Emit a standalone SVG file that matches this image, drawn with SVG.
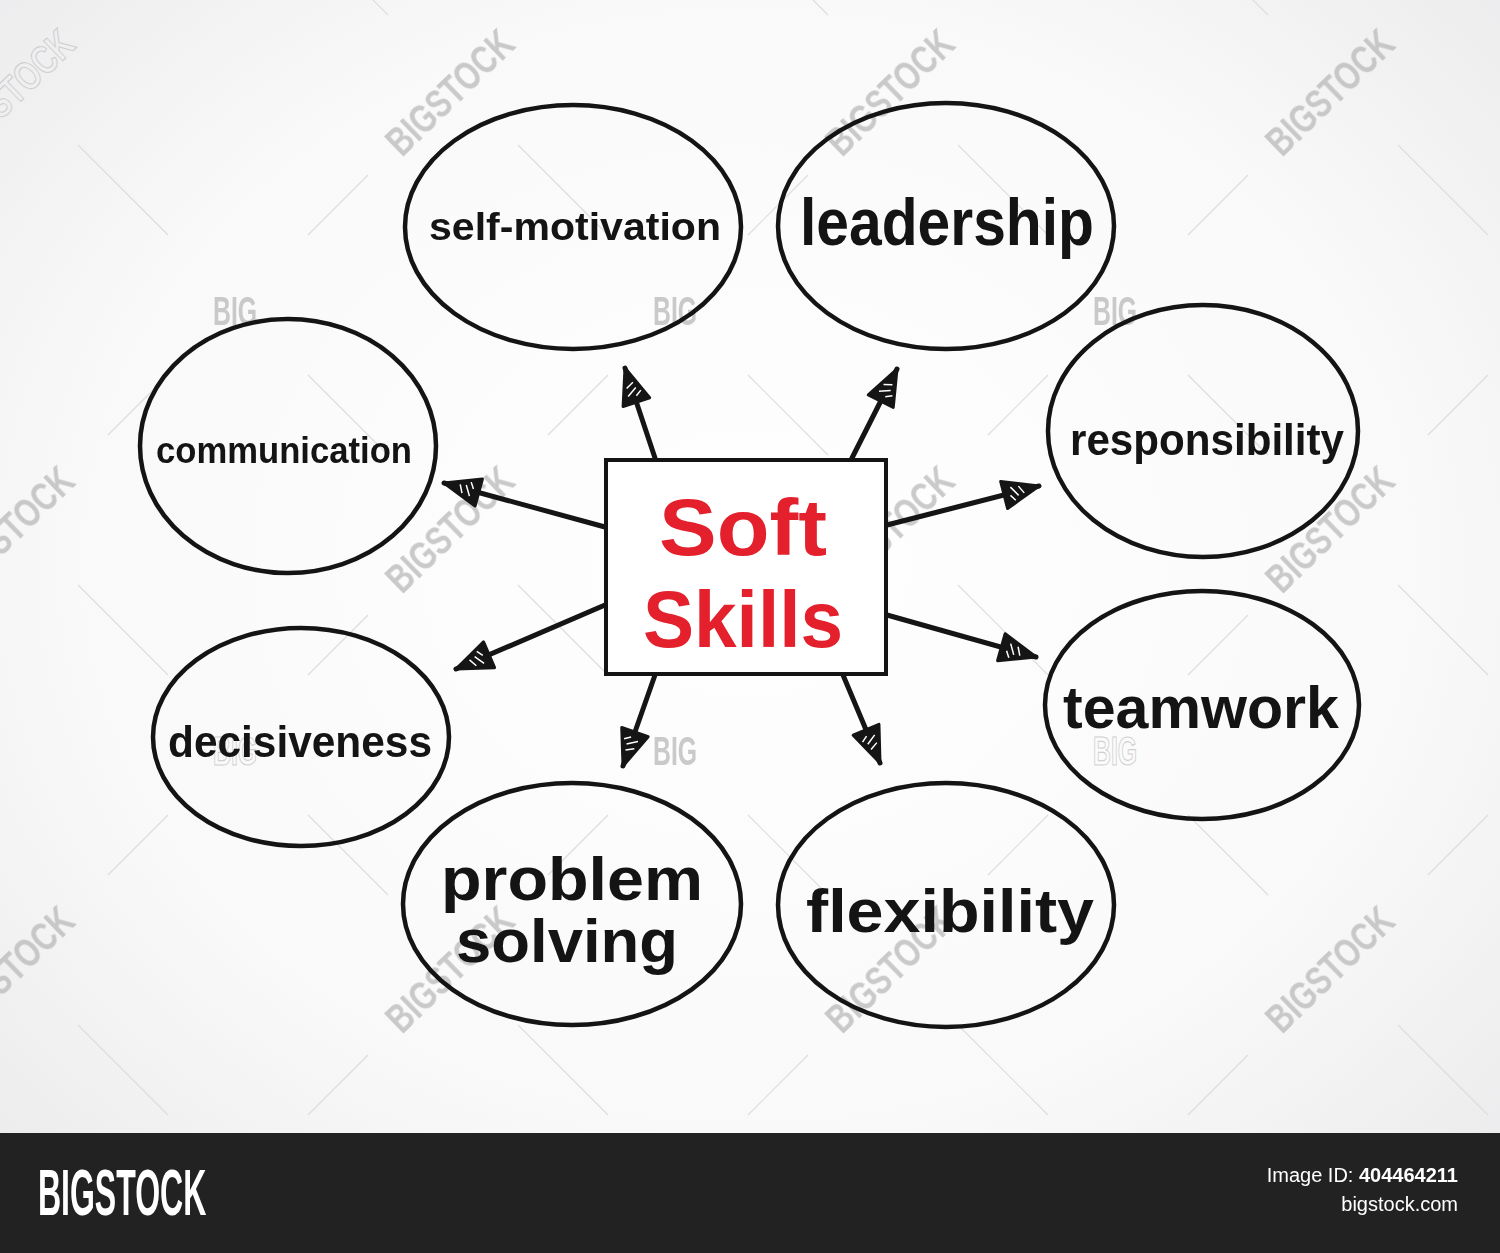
<svg xmlns="http://www.w3.org/2000/svg" width="1500" height="1253" viewBox="0 0 1500 1253">
<defs>
<radialGradient id="bg" cx="0.5" cy="0.45" r="0.75">
<stop offset="0" stop-color="#ffffff"/>
<stop offset="0.6" stop-color="#f9f9f9"/>
<stop offset="1" stop-color="#e8e8ea"/>
</radialGradient>
<marker id="ah" viewBox="0 0 40 32" refX="38" refY="16" markerWidth="40" markerHeight="32" markerUnits="userSpaceOnUse" orient="auto">
<path d="M2,2 L38,16 L2,30 Z" fill="#151515" stroke="#151515" stroke-width="3" stroke-linejoin="round"/>
<path d="M10,10 L16,20 M18,11 L22,19 M8,18 L12,24" stroke="#ffffff" stroke-width="1.5"/>
</marker>
<g id="wmx" stroke="#dedede" stroke-width="1.2">
<line x1="-150" y1="-150" x2="-70" y2="-70"/>
<line x1="60" y1="60" x2="150" y2="150"/>
<line x1="150" y1="-150" x2="90" y2="-90"/>
<line x1="-90" y1="90" x2="-150" y2="150"/>
</g>
<style>
.node ellipse{fill:none;stroke:#141414;stroke-width:4.5}
.lbl{font-family:"Liberation Sans","DejaVu Sans",sans-serif;font-weight:bold;fill:#141414;text-anchor:middle}
.conn line{stroke:#151515;stroke-width:5;stroke-linecap:round;marker-end:url(#ah)}
.wm{font-family:"Liberation Sans",sans-serif;font-weight:bold;fill:#b9b9b9;opacity:0.75}
.wmo{font-family:"Liberation Sans",sans-serif;font-weight:bold;fill:none;stroke:#d0d0d0;stroke-width:1.2}
</style>
</defs>
<rect x="0" y="0" width="1500" height="1253" fill="url(#bg)"/>

<g id="watermarks">
<use href="#wmx" x="458" y="85"/>
<use href="#wmx" x="898" y="85"/>
<use href="#wmx" x="1338" y="85"/>
<use href="#wmx" x="18" y="85"/>
<use href="#wmx" x="458" y="525"/>
<use href="#wmx" x="898" y="525"/>
<use href="#wmx" x="1338" y="525"/>
<use href="#wmx" x="18" y="525"/>
<use href="#wmx" x="458" y="965"/>
<use href="#wmx" x="898" y="965"/>
<use href="#wmx" x="1338" y="965"/>
<use href="#wmx" x="18" y="965"/>
<g class="wm" font-size="40">
<text transform="translate(402,158) rotate(-44) scale(0.76,1)">BIGSTOCK</text>
<text transform="translate(842,158) rotate(-44) scale(0.76,1)">BIGSTOCK</text>
<text transform="translate(1282,158) rotate(-44) scale(0.76,1)">BIGSTOCK</text>
<text transform="translate(-38,595) rotate(-44) scale(0.76,1)">BIGSTOCK</text>
<text transform="translate(402,595) rotate(-44) scale(0.76,1)">BIGSTOCK</text>
<text transform="translate(842,595) rotate(-44) scale(0.76,1)">BIGSTOCK</text>
<text transform="translate(1282,595) rotate(-44) scale(0.76,1)">BIGSTOCK</text>
<text transform="translate(-38,1035) rotate(-44) scale(0.76,1)">BIGSTOCK</text>
<text transform="translate(402,1035) rotate(-44) scale(0.76,1)">BIGSTOCK</text>
<text transform="translate(842,1035) rotate(-44) scale(0.76,1)">BIGSTOCK</text>
<text transform="translate(1282,1035) rotate(-44) scale(0.76,1)">BIGSTOCK</text>
</g>
<text class="wmo" font-size="40" transform="translate(-38,158) rotate(-44) scale(0.76,1)">BIGSTOCK</text>
<g class="wm" font-size="40">
<text transform="translate(213,325) scale(0.62,1)">BIG</text>
<text transform="translate(653,325) scale(0.62,1)">BIG</text>
<text transform="translate(1093,325) scale(0.62,1)">BIG</text>
<text transform="translate(653,765) scale(0.62,1)">BIG</text>
</g>
<g class="wmo" font-size="40">
<text transform="translate(1093,765) scale(0.62,1)">BIG</text>
<text transform="translate(213,765) scale(0.62,1)">BIG</text>
</g>
</g>

<g id="connectors" class="conn">
<line x1="655" y1="458" x2="625" y2="368"/>
<line x1="852" y1="458" x2="897" y2="369"/>
<line x1="605" y1="527" x2="444" y2="483"/>
<line x1="605" y1="605" x2="456" y2="669"/>
<line x1="655" y1="675" x2="623" y2="766"/>
<line x1="843" y1="675" x2="880" y2="763"/>
<line x1="887" y1="525" x2="1039" y2="486"/>
<line x1="887" y1="615" x2="1036" y2="657"/>
</g>

<g id="center">
<rect x="606" y="460" width="280" height="214" fill="#ffffff" stroke="#141414" stroke-width="4"/>
<text x="743" y="555" font-family="Liberation Sans,sans-serif" font-weight="bold" font-size="80" fill="#e3202b" text-anchor="middle" textLength="168" lengthAdjust="spacingAndGlyphs">Soft</text>
<text x="743" y="647" font-family="Liberation Sans,sans-serif" font-weight="bold" font-size="80" fill="#e3202b" text-anchor="middle" textLength="200" lengthAdjust="spacingAndGlyphs">Skills</text>
</g>

<g id="n-self-motivation" class="node">
<ellipse cx="573" cy="227" rx="168" ry="122"/>
<text class="lbl" x="575" y="240" font-size="38" textLength="292" lengthAdjust="spacingAndGlyphs">self-motivation</text>
</g>
<g id="n-leadership" class="node">
<ellipse cx="946" cy="226" rx="168" ry="123"/>
<text class="lbl" x="947" y="245" font-size="66" textLength="294" lengthAdjust="spacingAndGlyphs">leadership</text>
</g>
<g id="n-communication" class="node">
<ellipse cx="288" cy="446" rx="148" ry="127"/>
<text class="lbl" x="284" y="463" font-size="36" textLength="256" lengthAdjust="spacingAndGlyphs">communication</text>
</g>
<g id="n-responsibility" class="node">
<ellipse cx="1203" cy="431" rx="155" ry="126"/>
<text class="lbl" x="1207" y="455" font-size="44" textLength="274" lengthAdjust="spacingAndGlyphs">responsibility</text>
</g>
<g id="n-decisiveness" class="node">
<ellipse cx="301" cy="737" rx="148" ry="109"/>
<text class="lbl" x="300" y="757" font-size="44" textLength="264" lengthAdjust="spacingAndGlyphs">decisiveness</text>
</g>
<g id="n-teamwork" class="node">
<ellipse cx="1202" cy="705" rx="157" ry="114"/>
<text class="lbl" x="1201" y="728" font-size="60" textLength="276" lengthAdjust="spacingAndGlyphs">teamwork</text>
</g>
<g id="n-problem-solving" class="node">
<ellipse cx="572" cy="904" rx="169" ry="121"/>
<text class="lbl" x="572" y="900" font-size="62" textLength="262" lengthAdjust="spacingAndGlyphs">problem</text>
<text class="lbl" x="567" y="962" font-size="62" textLength="222" lengthAdjust="spacingAndGlyphs">solving</text>
</g>
<g id="n-flexibility" class="node">
<ellipse cx="946" cy="905" rx="168" ry="122"/>
<text class="lbl" x="950" y="932" font-size="62" textLength="288" lengthAdjust="spacingAndGlyphs">flexibility</text>
</g>

<g id="footer">
<rect x="0" y="1133" width="1500" height="120" fill="#222222"/>
<text transform="translate(38,1215) scale(0.5,1)" font-family="Liberation Sans,sans-serif" font-weight="bold" font-size="64" fill="#ffffff">BIGSTOCK</text>
<text x="1458" y="1182" font-family="Liberation Sans,sans-serif" font-size="20" fill="#ffffff" text-anchor="end">Image ID: <tspan font-weight="bold">404464211</tspan></text>
<text x="1458" y="1211" font-family="Liberation Sans,sans-serif" font-size="20" fill="#ffffff" text-anchor="end">bigstock.com</text>
</g>
</svg>
